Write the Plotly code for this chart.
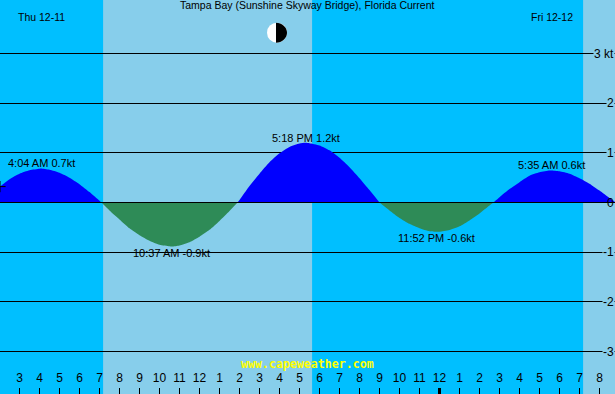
import plotly.graph_objects as go

TITLE = "Tampa Bay (Sunshine Skyway Bridge), Florida Current"
DAY_LABELS = ["Thu 12-11", "Fri 12-12"]
DAY_LABEL_HOURS = [4.1, 29.63]
SITE = "www.capeweather.com"

X_RANGE = [2.025, 32.775]
Y_RANGE = [-3.855, 4.077]

SUNRISE_SUNSET = [(7.18, 17.63), (31.18, 41.6)]

HOURS = list(range(3, 33))
HOUR_LABELS = ["3","4","5","6","7","8","9","10","11","12","1","2","3","4","5","6",
               "7","8","9","10","11","12","1","2","3","4","5","6","7","8"]
MIDNIGHT = 24

GRID_VALUES = [3, 2, 1, 0, -1, -2, -3]
GRID_LABELS = ["3 kt", "2", "1", "0", "-1", "-2", "-3"]

FLOOD_1_H = [2.025, 2.5, 3, 3.5, 4, 4.07, 4.5, 5, 5.5, 6, 6.5, 7, 7.1]
FLOOD_1_V = [0.32, 0.47, 0.58, 0.65, 0.68, 0.685, 0.66, 0.60, 0.50, 0.37, 0.21, 0.035, 0]
EBB_1_H = [7.1, 7.5, 8, 8.5, 9, 9.5, 10, 10.5, 10.62, 11, 11.5, 12, 12.5, 13, 13.5, 13.9]
EBB_1_V = [0, -0.16, -0.34, -0.52, -0.66, -0.77, -0.85, -0.88, -0.885, -0.865, -0.80, -0.69, -0.55, -0.37, -0.17, 0]
FLOOD_2_H = [13.9, 14, 14.5, 15, 15.5, 16, 16.5, 17, 17.3, 17.5, 18, 18.5, 19, 19.5, 20, 20.5, 21.0]
FLOOD_2_V = [0, 0.05, 0.33, 0.58, 0.81, 0.99, 1.12, 1.19, 1.205, 1.195, 1.15, 1.05, 0.90, 0.71, 0.49, 0.25, 0]
EBB_2_H = [21.0, 21.5, 22, 22.5, 23, 23.5, 23.87, 24, 24.5, 25, 25.5, 26, 26.5, 26.7]
EBB_2_V = [0, -0.16, -0.31, -0.43, -0.52, -0.58, -0.59, -0.59, -0.555, -0.48, -0.36, -0.22, -0.06, 0]
FLOOD_3_H = [26.7, 27, 27.5, 28, 28.5, 29, 29.5, 29.58, 30, 30.5, 31, 31.5, 32, 32.5, 32.775]
FLOOD_3_V = [0, 0.105, 0.27, 0.41, 0.54, 0.61, 0.645, 0.645, 0.63, 0.58, 0.49, 0.38, 0.24, 0.09, 0.01]

EXTREMA_H = [4.12, 10.62, 17.3, 23.87, 29.58]
EXTREMA_V = [0.685, -0.885, 1.205, -0.59, 0.645]
EXTREMA_TEXT = ["4:04 AM 0.7kt", "10:37 AM -0.9kt", "5:18 PM 1.2kt", "11:52 PM -0.6kt", "5:35 AM 0.6kt"]

MOON_H, MOON_V = 15.875, 3.42

NIGHT = "#00BFFF"
DAY = "#87CEEB"
FONT = "Liberation Sans"

fig = go.Figure()

for h, v in [(FLOOD_1_H, FLOOD_1_V), (FLOOD_2_H, FLOOD_2_V), (FLOOD_3_H, FLOOD_3_V)]:
    fig.add_trace(go.Scatter(x=h, y=v, mode="lines", line=dict(width=0, shape="spline", smoothing=0.6),
                             fill="tozeroy", fillcolor="#0000FF", showlegend=False, hoverinfo="skip"))
for h, v in [(EBB_1_H, EBB_1_V), (EBB_2_H, EBB_2_V)]:
    fig.add_trace(go.Scatter(x=h, y=v, mode="lines", line=dict(width=0, shape="spline", smoothing=0.6),
                             fill="tozeroy", fillcolor="#2E8B57", showlegend=False, hoverinfo="skip"))

# zero line above the fills
fig.add_trace(go.Scatter(x=X_RANGE, y=[0, 0], mode="lines", line=dict(color="black", width=1),
                         showlegend=False, hoverinfo="skip"))
# current-time mark at left edge
fig.add_trace(go.Scatter(x=[X_RANGE[0]], y=[FLOOD_1_V[0]], mode="markers",
                         marker=dict(symbol="cross-thin", size=8, line=dict(color="black", width=1)),
                         showlegend=False, hoverinfo="skip"))

shapes = []
shapes.append(dict(type="rect", xref="x", yref="paper", x0=X_RANGE[0], x1=X_RANGE[1], y0=0, y1=1,
                   fillcolor=NIGHT, line_width=0, layer="below"))
for rise, sset in SUNRISE_SUNSET:
    shapes.append(dict(type="rect", xref="x", yref="paper", x0=rise, x1=sset, y0=0, y1=1,
                       fillcolor=DAY, line_width=0, layer="below"))
shapes.append(dict(type="line", xref="x", yref="paper", x0=MIDNIGHT, x1=MIDNIGHT, y0=0, y1=6 / 394,
                   line=dict(color="black", width=3)))
# moon
shapes.append(dict(type="circle", xref="x", yref="y", xsizemode="pixel", ysizemode="pixel",
                   xanchor=MOON_H, yanchor=MOON_V, x0=-10, x1=10, y0=-10, y1=10,
                   fillcolor="white", line_width=0))
shapes.append(dict(type="path", xref="x", yref="y", xsizemode="pixel", ysizemode="pixel",
                   xanchor=MOON_H, yanchor=MOON_V,
                   path="M -1 -10 C 5 -10 10 -5.5 10 0 C 10 5.5 5 10 -1 10 Z",
                   fillcolor="black", line_width=0))

ann = []
for v, t in zip(GRID_VALUES, GRID_LABELS):
    ann.append(dict(x=X_RANGE[1], y=v, xref="x", yref="y", text=t, showarrow=False, xanchor="right",
                    yanchor="middle", font=dict(family=FONT, size=12, color="black"),
                    bgcolor=None if v == 0 else DAY, borderpad=0))
ann.append(dict(x=0.5, y=1, xref="paper", yref="paper", yanchor="top", yshift=3, text=TITLE, showarrow=False,
                font=dict(family=FONT, size=10.5, color="black")))
for h, t in zip(DAY_LABEL_HOURS, DAY_LABELS):
    ann.append(dict(x=h, y=1, xref="x", yref="paper", yanchor="top", yshift=-9, text=t, showarrow=False,
                    font=dict(family=FONT, size=10.5, color="black")))
ann.append(dict(x=0.5, y=0, xref="paper", yref="paper", yanchor="bottom", yshift=21, text=SITE, showarrow=False,
                font=dict(family="DejaVu Sans Mono", size=11.6, color="yellow", weight="bold")))
for h, v, t in zip(EXTREMA_H, EXTREMA_V, EXTREMA_TEXT):
    ann.append(dict(x=h, y=v, xref="x", yref="y", text=t, showarrow=False,
                    yanchor="bottom" if v > 0 else "top", yshift=-3 if v > 0 else 1.5,
                    font=dict(family=FONT, size=11, color="black")))

fig.update_layout(
    width=615, height=394, margin=dict(l=0, r=0, t=0, b=0), paper_bgcolor=NIGHT, plot_bgcolor="rgba(0,0,0,0)",
    showlegend=False, shapes=shapes, annotations=ann,
    xaxis=dict(range=X_RANGE, tickmode="array", tickvals=HOURS, ticktext=HOUR_LABELS, ticks="inside", ticklen=6,
               tickwidth=1, tickcolor="black", ticklabelposition="inside", ticklabelstandoff=3,
               tickfont=dict(family=FONT, size=12, color="black"),
               showgrid=False, zeroline=False, showline=False, fixedrange=True),
    yaxis=dict(range=Y_RANGE, tickmode="array", tickvals=GRID_VALUES, showticklabels=False, ticks="",
               showgrid=True, gridcolor="black", gridwidth=1, zeroline=False, showline=False, fixedrange=True),
)

fig.write_html("out.html", config={"displayModeBar": False},
               post_script="document.body.style.margin='0';")
